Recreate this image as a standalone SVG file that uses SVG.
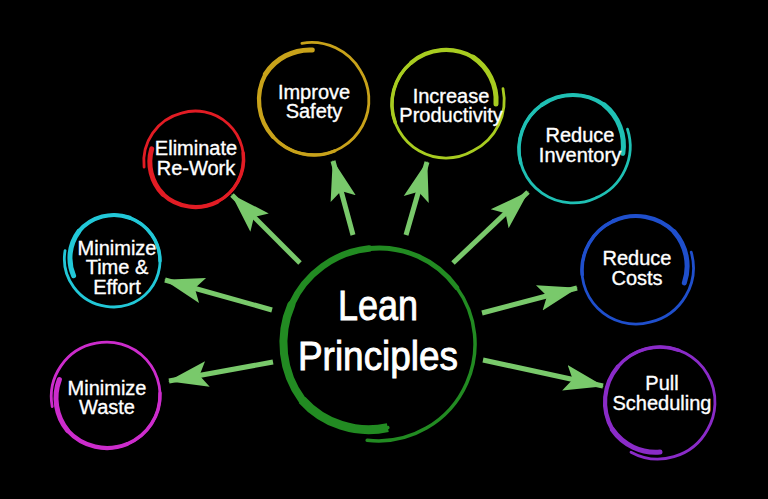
<svg xmlns="http://www.w3.org/2000/svg" width="768" height="499" viewBox="0 0 768 499">
<defs>
<style>
.base{fill:none;stroke-width:2.8;stroke-linecap:round}
.wa{fill:none;stroke-width:5;stroke-linecap:round}
.wb{fill:none;stroke-width:4.2;stroke-linecap:round}
.wc{fill:none;stroke-width:3.5;stroke-linecap:round}
.lbl{font-family:"Liberation Sans",Arial,sans-serif;font-size:20px;fill:#ffffff;stroke:#ffffff;stroke-width:0.35;text-anchor:middle}
.big{font-family:"Liberation Sans",Arial,sans-serif;fill:#ffffff;stroke:#ffffff;stroke-width:0.9;text-anchor:middle}
.arr{stroke:#79c96b;stroke-width:5;fill:none;marker-end:url(#ah)}
</style>
<marker id="ah" markerUnits="userSpaceOnUse" markerWidth="40" markerHeight="32" viewBox="0 0 40 32" refX="39" refY="16" orient="auto">
<path d="M0,3 L40,16 L0,29 L8,16 Z" fill="#79c96b"/>
</marker>
</defs>
<rect x="0" y="0" width="768" height="499" fill="#000000"/>

<g id="connectors">
<line class="arr" x1="273" y1="362" x2="169" y2="381"/>
<line class="arr" x1="272" y1="310" x2="165" y2="280"/>
<line class="arr" x1="300" y1="263" x2="232" y2="195"/>
<line class="arr" x1="353" y1="235" x2="333" y2="161"/>
<line class="arr" x1="406" y1="235" x2="427" y2="162"/>
<line class="arr" x1="453" y1="263" x2="528" y2="192"/>
<line class="arr" x1="482" y1="313" x2="577" y2="288"/>
<line class="arr" x1="483" y1="360" x2="603" y2="386"/>
</g>

<g id="center" stroke="#228b22">
<path fill="none" stroke-width="3.5" stroke-linecap="round" d="M387.8,427.6 A89.5,89.5 0 0 1 302.1,399.9 A96,96 0 0 1 369.0,248.5 A96,96 0 0 1 466.7,383.1 A96.5,96.5 0 0 1 367.2,440.3"/>
<path fill="none" stroke-width="9" d="M387.8,427.6 A89.5,89.5 0 0 1 302.1,399.9"/>
<path fill="none" stroke-width="8" stroke-linecap="round" d="M302.1,399.9 A96,96 0 0 1 291.3,304.9"/>
<path fill="none" stroke-width="6.5" stroke-linecap="round" d="M291.3,304.9 A96,96 0 0 1 369.0,248.5"/>
<path fill="none" stroke-width="5" stroke-linecap="round" d="M369.0,248.5 A96,96 0 0 1 456.7,287.6"/>
<text class="big" x="378" y="320" font-size="42" textLength="80" lengthAdjust="spacingAndGlyphs">Lean</text>
<text class="big" x="378" y="370" font-size="40" textLength="160" lengthAdjust="spacingAndGlyphs">Principles</text>
</g>

<g id="minimize-waste" stroke="#cc2ccc">
<path class="base" d="M59.4,379.5 A51.5,51.5 0 0 0 67.6,430.5 A53,53 0 0 0 157.4,411.4 A53,53 0 0 0 96.0,343.2 A54.5,54.5 0 0 0 52.2,406.6"/>
<path class="wa" d="M59.4,379.5 A51.5,51.5 0 0 0 67.6,430.5"/>
<path class="wb" d="M67.6,430.5 A53,53 0 0 0 126.9,444.1"/>
<path class="wc" d="M126.9,444.1 A53,53 0 0 0 160,393.1"/>
<text class="lbl" x="107" y="395">Minimize</text>
<text class="lbl" x="107" y="414">Waste</text>
</g>

<g id="minimize-time" stroke="#22c8d8">
<path class="base" d="M73.6,275.7 A44.5,44.5 0 0 1 78.8,231.4 A46,46 0 0 1 157.2,245.3 A46,46 0 0 1 106.0,306.3 A48,48 0 0 1 65.1,250.6"/>
<path class="wa" d="M73.6,275.7 A44.5,44.5 0 0 1 78.8,231.4"/>
<path class="wb" d="M78.8,231.4 A46,46 0 0 1 129.7,217.8"/>
<path class="wc" d="M129.7,217.8 A46,46 0 0 1 160,261"/>
<text class="lbl" x="117" y="255">Minimize</text>
<text class="lbl" x="117" y="274">Time &amp;</text>
<text class="lbl" x="117" y="294">Effort</text>
</g>

<g id="eliminate-rework" stroke="#e21c24">
<path class="base" d="M151.7,148.9 A46.5,46.5 0 0 0 162.8,194.1 A48,48 0 0 0 242.3,169.8 A48,48 0 0 0 181.5,113.1 A50,50 0 0 0 144.1,167.1"/>
<path class="wa" d="M151.7,148.9 A46.5,46.5 0 0 0 162.8,194.1"/>
<path class="wb" d="M162.8,194.1 A48,48 0 0 0 217.3,201.8"/>
<path class="wc" d="M217.3,201.8 A48,48 0 0 0 243.2,153.1"/>
<text class="lbl" x="196" y="155">Eliminate</text>
<text class="lbl" x="196" y="175">Re-Work</text>
</g>

<g id="improve-safety" stroke="#c8a21a">
<path class="base" d="M312.3,50.0 A52.5,52.5 0 0 0 265.4,74.2 A55,55 0 0 0 315.9,154.9 A55,55 0 0 0 360.6,70.9 A56.5,56.5 0 0 0 301.9,43.3"/>
<path class="wa" d="M312.3,50.0 A52.5,52.5 0 0 0 265.4,74.2"/>
<path class="wb" d="M265.4,74.2 A55,55 0 0 0 273.1,136.8"/>
<path class="wc" d="M273.1,136.8 A55,55 0 0 0 334.6,151.0"/>
<text class="lbl" x="314" y="99">Improve</text>
<text class="lbl" x="314" y="118">Safety</text>
</g>

<g id="increase-productivity" stroke="#a8cc20">
<path class="base" d="M496,104 A52,52 0 0 0 473,57.2 A54,54 0 0 0 392,104 A54,54 0 0 0 473,150.8 A56.5,56.5 0 0 0 503.0,88.7"/>
<path class="wa" d="M496,104 A52,52 0 0 0 473,57.2"/>
<path class="wb" d="M473,57.2 A54,54 0 0 0 411.3,62.6"/>
<path class="wc" d="M411.3,62.6 A54,54 0 0 0 395.2,122.5"/>
<text class="lbl" x="451" y="103">Increase</text>
<text class="lbl" x="451" y="122">Productivity</text>
</g>

<g id="reduce-inventory" stroke="#1fc0b4">
<path class="base" d="M622.8,153.4 A52,52 0 0 0 604.0,104.8 A54,54 0 0 0 519.2,144.3 A54,54 0 0 0 595.8,197.9 A56,56 0 0 0 627.5,129.2"/>
<path class="wa" d="M622.8,153.4 A52,52 0 0 0 604.0,104.8"/>
<path class="wb" d="M604.0,104.8 A54,54 0 0 0 542.0,104.8"/>
<path class="wc" d="M542.0,104.8 A54,54 0 0 0 520.8,163.0"/>
<text class="lbl" x="580" y="142">Reduce</text>
<text class="lbl" x="580" y="162">Inventory</text>
</g>

<g id="reduce-costs" stroke="#1f4fcc">
<path class="base" d="M684.3,283.0 A52,52 0 0 0 674.2,231.8 A54,54 0 0 0 583.8,256.0 A54,54 0 0 0 650.0,322.2 A56,56 0 0 0 691.2,252.1"/>
<path class="wa" d="M684.3,283.0 A52,52 0 0 0 674.2,231.8"/>
<path class="wb" d="M674.2,231.8 A54,54 0 0 0 613.2,221.1"/>
<path class="wc" d="M613.2,221.1 A54,54 0 0 0 582.2,274.7"/>
<text class="lbl" x="637" y="265">Reduce</text>
<text class="lbl" x="637" y="285">Costs</text>
</g>

<g id="pull-scheduling" stroke="#8a2bc8">
<path class="base" d="M660,452 A52.5,52.5 0 0 1 612.4,429.5 A55,55 0 0 1 660,347 A55,55 0 0 1 707.6,429.5 A56.5,56.5 0 0 1 631.0,452.2"/>
<path class="wa" d="M660,452 A52.5,52.5 0 0 1 612.4,429.5"/>
<path class="wb" d="M612.4,429.5 A55,55 0 0 1 617.9,366.6"/>
<path class="wc" d="M617.9,366.6 A55,55 0 0 1 678.8,350.3"/>
<text class="lbl" x="662" y="390">Pull</text>
<text class="lbl" x="662" y="410">Scheduling</text>
</g>
</svg>
